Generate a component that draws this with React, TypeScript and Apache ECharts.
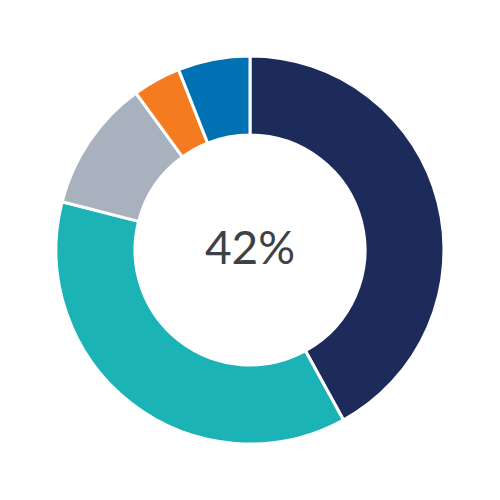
import React, { useEffect, useRef } from 'react';
import * as echarts from 'echarts';

const segmentNames = ['Navy', 'Teal', 'Gray', 'Orange', 'Blue'];
const segmentValues = [42, 37, 11, 4, 6];
const segmentColors = ['#1c2b5a', '#1bb3b5', '#a8b2bf', '#f47b20', '#0072b3'];
const centerLabel = '42%';

const App: React.FC = () => {
  const chartRef = useRef<HTMLDivElement>(null);

  useEffect(() => {
    if (!chartRef.current) return;

    const chart = echarts.init(chartRef.current, undefined, { renderer: 'svg' });

    const options: echarts.EChartsOption = {
      animation: false,
      graphic: [{
        type: 'text',
        x: 250,
        y: 246,
        style: {
          text: centerLabel,
          align: 'center',
          verticalAlign: 'middle',
          fontFamily: 'Lato',
          fontWeight: 'normal',
          fontSize: 46,
          fill: '#3d4247'
        }
      }],
      series: [{
        type: 'pie',
        center: ['50%', '50%'],
        radius: [115, 194],
        startAngle: 90,
        clockwise: true,
        label: { show: false },
        labelLine: { show: false },
        emphasis: { disabled: true },
        itemStyle: {
          borderColor: '#ffffff',
          borderWidth: 3
        },
        data: segmentNames.map((name, i) => ({
          name,
          value: segmentValues[i],
          itemStyle: { color: segmentColors[i] }
        }))
      }]
    };

    chart.setOption(options);

    return () => {
      chart.dispose(); // clean up on unmount
    };
  }, []);

  return (
    <div
      ref={chartRef}
      style={{ position: 'absolute', left: 0, top: 0, width: 500, height: 500 }}
    />
  );
};

export default App;
